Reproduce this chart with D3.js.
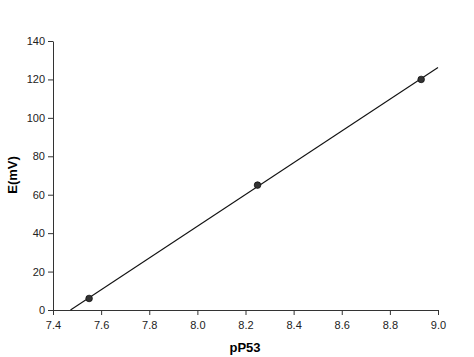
<!DOCTYPE html>
<html><head><meta charset="utf-8">
<script src="https://cdn.jsdelivr.net/npm/d3@7"></script>
<style>body{margin:0;background:#fff}svg{display:block}</style>
</head><body>
<svg id="c" width="474" height="357"></svg>
<script>
const xValues = [7.55, 8.25, 8.93];
const yValues = [6, 65, 120];
const xTicks = [7.4, 7.6, 7.8, 8.0, 8.2, 8.4, 8.6, 8.8, 9.0];
const yTicks = [0, 20, 40, 60, 80, 100, 120, 140];

const svg = d3.select("#c");
const x = d3.scaleLinear().domain([7.4, 9.0]).range([53, 438]);
const y = d3.scaleLinear().domain([0, 140]).range([310, 41]);
const font = "Liberation Sans, Arial, sans-serif";

// least-squares fit
const n = xValues.length;
const mx = d3.mean(xValues), my = d3.mean(yValues);
let sxy = 0, sxx = 0;
for (let i = 0; i < n; i++) { sxy += (xValues[i]-mx)*(yValues[i]-my); sxx += (xValues[i]-mx)**2; }
const slope = sxy / sxx, icpt = my - slope * mx;
const x0 = -icpt / slope, x1 = 9.0;

const xa = svg.append("g").attr("transform", "translate(0,310)")
  .call(d3.axisBottom(x).tickValues(xTicks).tickFormat(d3.format(".1f")).tickSize(5).tickSizeOuter(0));
const ya = svg.append("g").attr("transform", "translate(53,0)")
  .call(d3.axisLeft(y).tickValues(yTicks).tickSize(5).tickSizeOuter(0));
[xa, ya].forEach(g => {
  g.selectAll("path,line").attr("stroke", "#333");
  g.selectAll("text").attr("font-family", font).attr("font-size", 11).attr("fill", "#222");
});
xa.selectAll("text").attr("dy", null).attr("y", 19);
ya.selectAll("text").attr("x", -8);

svg.append("line")
  .attr("x1", x(x0)).attr("y1", y(0))
  .attr("x2", x(x1)).attr("y2", y(slope * x1 + icpt))
  .attr("stroke", "#111").attr("stroke-width", 1.1);

svg.selectAll("circle.p").data(xValues).enter().append("circle")
  .attr("cx", d => x(d)).attr("cy", (d, i) => y(yValues[i]))
  .attr("r", 3.3).attr("fill", "#333").attr("stroke", "#111").attr("stroke-width", 0.8);

svg.append("text").attr("x", 245).attr("y", 352).attr("text-anchor", "middle")
  .attr("font-family", font).attr("font-weight", "bold").attr("font-size", 13).text("pP53");
svg.append("text").attr("transform", "translate(17,175) rotate(-90)").attr("text-anchor", "middle")
  .attr("font-family", font).attr("font-weight", "bold").attr("font-size", 13).text("E(mV)");
</script>
</body></html>
